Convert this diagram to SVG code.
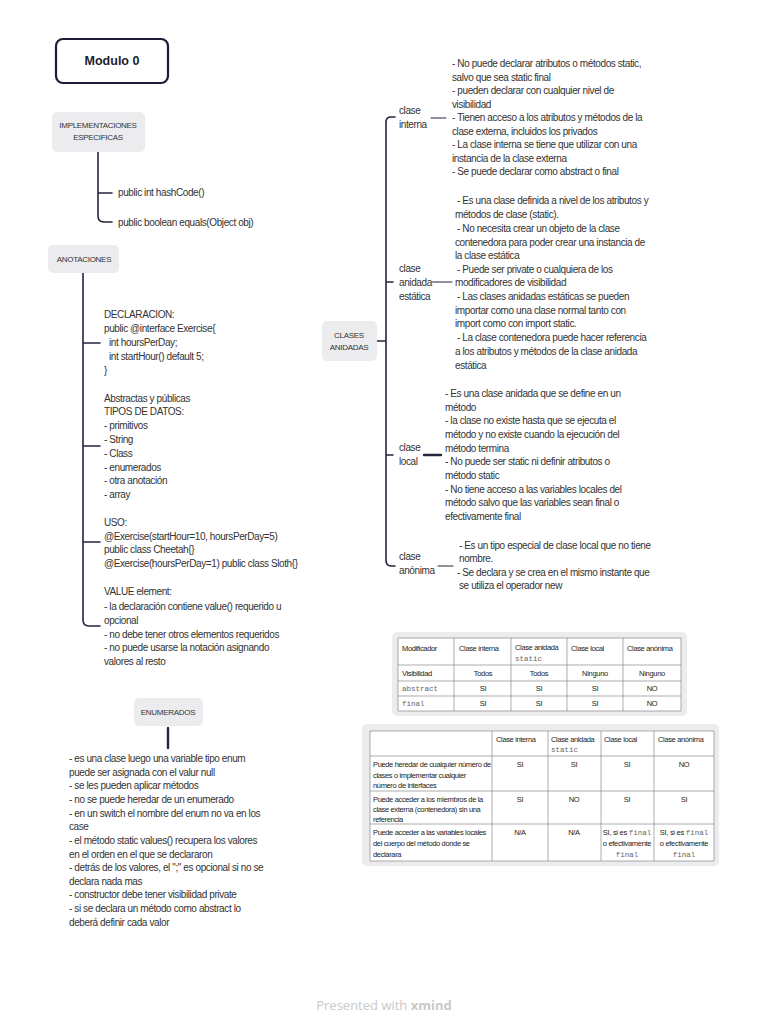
<svg xmlns="http://www.w3.org/2000/svg" width="768" height="1024" viewBox="0 0 768 1024">
<defs>
<style>
.t{font-family:"Liberation Sans",Arial,sans-serif;font-size:10px;letter-spacing:-0.4px;fill:#333}
.bx{font-family:"Liberation Sans",Arial,sans-serif;font-size:8px;letter-spacing:-0.3px;fill:#333;text-anchor:middle}
.tb{font-family:"Liberation Sans",Arial,sans-serif;font-size:7.5px;letter-spacing:-0.35px;fill:#222}
.tbc{font-family:"Liberation Sans",Arial,sans-serif;font-size:7.5px;letter-spacing:-0.3px;fill:#222;text-anchor:middle}
.mono{font-family:"Liberation Mono",monospace;fill:#666;letter-spacing:0}
.node{fill:#ececef}
.c{fill:none;stroke:#25253f;stroke-width:1.6;stroke-linecap:round}
.grid{fill:none;stroke:#777;stroke-width:0.6}
</style>
</defs>
<rect width="768" height="1024" fill="#fff"/>

<g id="connectors">
<path class="c" d="M98,152 V216 Q98,222 104,222 H112 M98,193 H112"/>
<path class="c" d="M83,273 V620 Q83,626 89,626 H100 M83,343 H100 M83,446 H100 M83,542 H100"/>
<path class="c" d="M168,728 V748" style="stroke-width:2.4"/>
<path class="c" d="M377,341 H386 M395,117 H391 Q386,117 386,122 V560 Q386,566 391,566 H395 M386,282 H393 M386,455 H393"/>
<path class="c" d="M431,118 H446" style="stroke-width:1"/>
<path class="c" d="M432,282 H452" style="stroke-width:1"/>
<path class="c" d="M424,455 H441" style="stroke-width:2.4"/>
<path class="c" d="M438,566 H453" style="stroke-width:1"/>
</g>

<g id="modulo0">
<rect x="56" y="39" width="112" height="44" rx="7" fill="#fff" stroke="#1c1c34" stroke-width="2.2"/>
<text x="112" y="65" text-anchor="middle" style="font-family:'Liberation Sans',Arial,sans-serif;font-size:12.5px;font-weight:bold;fill:#1c1c2e">Modulo 0</text>
</g>

<g id="implementaciones">
<rect class="node" x="52" y="112" width="93" height="40" rx="5"/>
<text class="bx" x="98" y="128">IMPLEMENTACIONES</text>
<text class="bx" x="98" y="140">ESPECIFICAS</text>
</g>
<g id="hashcode"><text class="t" x="118" y="196">public int hashCode()</text></g>
<g id="equals"><text class="t" x="118" y="226">public boolean equals(Object obj)</text></g>

<g id="anotaciones">
<rect class="node" x="48" y="245" width="71" height="28" rx="5"/>
<text class="bx" x="84" y="262">ANOTACIONES</text>
</g>
<g id="declaracion">
<text class="t" x="104" y="318">DECLARACION:</text>
<text class="t" x="104" y="332">public @interface Exercise{</text>
<text class="t" x="109" y="346">int hoursPerDay;</text>
<text class="t" x="109" y="360">int startHour() default 5;</text>
<text class="t" x="104" y="374">}</text>
</g>
<g id="tipos">
<text class="t" x="104" y="402">Abstractas y públicas</text>
<text class="t" x="104" y="415">TIPOS DE DATOS:</text>
<text class="t" x="104" y="429">- primitivos</text>
<text class="t" x="104" y="443">- String</text>
<text class="t" x="104" y="457">- Class</text>
<text class="t" x="104" y="471">- enumerados</text>
<text class="t" x="104" y="484">- otra anotación</text>
<text class="t" x="104" y="498">- array</text>
</g>
<g id="uso">
<text class="t" x="104" y="526">USO:</text>
<text class="t" x="104" y="540">@Exercise(startHour=10, hoursPerDay=5)</text>
<text class="t" x="104" y="553">public class Cheetah{}</text>
<text class="t" x="104" y="567">@Exercise(hoursPerDay=1) public class Sloth{}</text>
</g>
<g id="value">
<text class="t" x="104" y="595">VALUE element:</text>
<text class="t" x="104" y="610">- la declaración contiene value() requerido u</text>
<text class="t" x="104" y="624">opcional</text>
<text class="t" x="104" y="638">- no debe tener otros elementos requeridos</text>
<text class="t" x="104" y="651">- no puede usarse la notación asignando</text>
<text class="t" x="104" y="665">valores al resto</text>
</g>

<g id="enumerados">
<rect class="node" x="134" y="698" width="69" height="28" rx="5"/>
<text class="bx" x="168" y="715">ENUMERADOS</text>
</g>
<g id="enum-text">
<text class="t" x="69" y="762">- es una clase luego una variable tipo enum</text>
<text class="t" x="69" y="776">puede ser asignada con el valur null</text>
<text class="t" x="69" y="789">- se les pueden aplicar métodos</text>
<text class="t" x="69" y="803">- no se puede heredar de un enumerado</text>
<text class="t" x="69" y="817">- en un switch el nombre del enum no va en los</text>
<text class="t" x="69" y="830">case</text>
<text class="t" x="69" y="844">- el método static values() recupera los valores</text>
<text class="t" x="69" y="858">en el orden en el que se declararon</text>
<text class="t" x="69" y="871">- detrás de los valores, el ";" es opcional si no se</text>
<text class="t" x="69" y="885">declara nada mas</text>
<text class="t" x="69" y="898">- constructor debe tener visibilidad private</text>
<text class="t" x="69" y="912">- si se declara un método como abstract lo</text>
<text class="t" x="69" y="926">deberá definir cada valor</text>
</g>

<g id="clases-anidadas">
<rect class="node" x="322" y="321" width="55" height="40" rx="5"/>
<text class="bx" x="349" y="338">CLASES</text>
<text class="bx" x="349" y="350">ANIDADAS</text>
</g>

<g id="clase-interna">
<text class="t" x="399" y="114">clase</text>
<text class="t" x="399" y="128">interna</text>
</g>
<g id="interna-text">
<text class="t" x="452" y="67">- No puede declarar atributos o métodos static,</text>
<text class="t" x="452" y="81">salvo que sea static final</text>
<text class="t" x="452" y="94">- pueden declarar con cualquier nivel de</text>
<text class="t" x="452" y="108">visibilidad</text>
<text class="t" x="452" y="121">- Tienen acceso a los atributos y métodos de la</text>
<text class="t" x="452" y="135">clase externa, incluidos los privados</text>
<text class="t" x="452" y="148">- La clase interna se tiene que utilizar con una</text>
<text class="t" x="452" y="162">instancia de la clase externa</text>
<text class="t" x="452" y="175">- Se puede declarar como abstract o final</text>
</g>

<g id="clase-anidada-estatica">
<text class="t" x="399" y="272">clase</text>
<text class="t" x="399" y="286">anidada</text>
<text class="t" x="399" y="300">estática</text>
</g>
<g id="estatica-text">
<text class="t" x="457" y="204">- Es una clase definida a nivel de los atributos y</text>
<text class="t" x="455" y="218">métodos de clase (static).</text>
<text class="t" x="457" y="232">- No necesita crear un objeto de la clase</text>
<text class="t" x="455" y="246">contenedora para poder crear una instancia de</text>
<text class="t" x="455" y="259">la clase estática</text>
<text class="t" x="457" y="273">- Puede ser private o cualquiera de los</text>
<text class="t" x="455" y="286">modificadores de visibilidad</text>
<text class="t" x="457" y="300">- Las clases anidadas estáticas se pueden</text>
<text class="t" x="455" y="314">importar como una clase normal tanto con</text>
<text class="t" x="455" y="327">import como con import static.</text>
<text class="t" x="457" y="341">- La clase contenedora puede hacer referencia</text>
<text class="t" x="455" y="355">a los atributos y métodos de la clase anidada</text>
<text class="t" x="455" y="369">estática</text>
</g>

<g id="clase-local">
<text class="t" x="399" y="451">clase</text>
<text class="t" x="399" y="465">local</text>
</g>
<g id="local-text">
<text class="t" x="445" y="397">- Es una clase anidada que se define en un</text>
<text class="t" x="445" y="411">método</text>
<text class="t" x="445" y="424">- la clase no existe hasta que se ejecuta el</text>
<text class="t" x="445" y="438">método y no existe cuando la ejecución del</text>
<text class="t" x="445" y="452">método termina</text>
<text class="t" x="445" y="465">- No puede ser static ni definir atributos o</text>
<text class="t" x="445" y="479">método static</text>
<text class="t" x="445" y="493">- No tiene acceso a las variables locales del</text>
<text class="t" x="445" y="506">método salvo que las variables sean final o</text>
<text class="t" x="445" y="520">efectivamente final</text>
</g>

<g id="clase-anonima">
<text class="t" x="399" y="560">clase</text>
<text class="t" x="399" y="574">anónima</text>
</g>
<g id="anonima-text">
<text class="t" x="459" y="549">- Es un tipo especial de clase local que no tiene</text>
<text class="t" x="459" y="562">nombre.</text>
<text class="t" x="457" y="576">- Se declara y se crea en el mismo instante que</text>
<text class="t" x="459" y="589">se utiliza el operador new</text>
</g>

<g id="tabla1">
<rect x="392" y="632" width="295" height="84" rx="5" fill="#ececef"/>
<rect x="398" y="638" width="283" height="73" fill="#fff"/>
<path class="grid" d="M398,638 H681 V711 H398 Z M398,665 H681 M398,681 H681 M398,696 H681 M454,638 V711 M511,638 V711 M567,638 V711 M623,638 V711"/>
<text class="tb" x="402" y="651">Modificador</text>
<text class="tb" x="459" y="651">Clase interna</text>
<text class="tb" x="515" y="650">Clase anidada</text>
<text class="tb mono" x="515" y="661">static</text>
<text class="tb" x="571" y="651">Clase local</text>
<text class="tb" x="627" y="651">Clase anónima</text>
<text class="tb" x="402" y="676">Visibilidad</text>
<text class="tbc" x="483" y="676">Todos</text>
<text class="tbc" x="539" y="676">Todos</text>
<text class="tbc" x="595" y="676">Ninguno</text>
<text class="tbc" x="652" y="676">Ninguno</text>
<text class="tb mono" x="402" y="691">abstract</text>
<text class="tbc" x="483" y="691">SI</text>
<text class="tbc" x="539" y="691">SI</text>
<text class="tbc" x="595" y="691">SI</text>
<text class="tbc" x="652" y="691">NO</text>
<text class="tb mono" x="402" y="706">final</text>
<text class="tbc" x="483" y="706">SI</text>
<text class="tbc" x="539" y="706">SI</text>
<text class="tbc" x="595" y="706">SI</text>
<text class="tbc" x="652" y="706">NO</text>
</g>

<g id="tabla2">
<rect x="362" y="724" width="357" height="142" rx="5" fill="#ececef"/>
<rect x="370" y="731" width="344" height="130" fill="#fff"/>
<path class="grid" d="M370,731 H714 V861 H370 Z M370,756 H714 M370,791 H714 M370,824 H714 M492,731 V861 M548,731 V861 M601,731 V861 M654,731 V861"/>
<text class="tb" x="496" y="742">Clase interna</text>
<text class="tb" x="551" y="742">Clase anidada</text>
<text class="tb mono" x="551" y="752">static</text>
<text class="tb" x="604" y="742">Clase local</text>
<text class="tb" x="658" y="742">Clase anónima</text>
<text class="tb" x="373" y="767">Puede heredar de cualquier número de</text>
<text class="tb" x="373" y="778">clases o implementar cualquier</text>
<text class="tb" x="373" y="788">número de interfaces</text>
<text class="tbc" x="520" y="767">SI</text>
<text class="tbc" x="574" y="767">SI</text>
<text class="tbc" x="627" y="767">SI</text>
<text class="tbc" x="684" y="767">NO</text>
<text class="tb" x="373" y="802">Puede acceder a los miembros de la</text>
<text class="tb" x="373" y="812">clase externa (contenedora) sin una</text>
<text class="tb" x="373" y="822">referencia</text>
<text class="tbc" x="520" y="802">SI</text>
<text class="tbc" x="574" y="802">NO</text>
<text class="tbc" x="627" y="802">SI</text>
<text class="tbc" x="684" y="802">SI</text>
<text class="tb" x="373" y="835">Puede acceder a las variables locales</text>
<text class="tb" x="373" y="846">del cuerpo del método donde se</text>
<text class="tb" x="373" y="857">declarara</text>
<text class="tbc" x="520" y="835">N/A</text>
<text class="tbc" x="574" y="835">N/A</text>
<text class="tbc" x="627" y="835">SI, si es <tspan class="mono">final</tspan></text>
<text class="tbc" x="627" y="846">o efectivamente</text>
<text class="tbc mono" x="627" y="857">final</text>
<text class="tbc" x="684" y="835">SI, si es <tspan class="mono">final</tspan></text>
<text class="tbc" x="684" y="846">o efectivamente</text>
<text class="tbc mono" x="684" y="857">final</text>
</g>

<g id="footer">
<text x="384" y="1010" text-anchor="middle" style="font-family:'Open Sans','Liberation Sans',sans-serif;font-size:13px;fill:#c9c9c9">Presented with <tspan style="font-weight:bold">xmind</tspan></text>
</g>
</svg>
